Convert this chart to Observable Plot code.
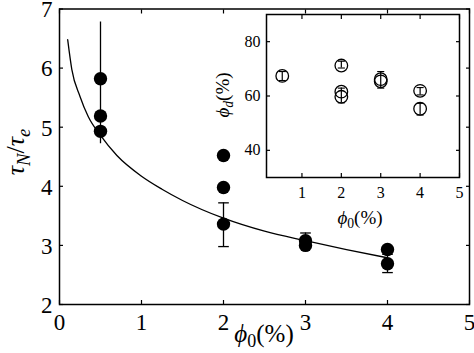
<!DOCTYPE html>
<html><head>
<meta charset="utf-8">
<script src="https://cdn.jsdelivr.net/npm/d3@7"></script>
<script src="https://cdn.jsdelivr.net/npm/@observablehq/plot@0.6"></script>
<style>
body{margin:0;background:#fff;}
#wrap{position:relative;width:474px;height:353px;}
#wrap svg{position:absolute;left:0;top:0;}
</style></head><body><div id="wrap"></div>
<script>
// main panel data
const mainX = [0.5, 0.5, 0.5, 2, 2, 2, 3, 3, 4, 4];
const mainY = [5.82, 5.19, 4.93, 4.52, 3.98, 3.36, 3.08, 3.0, 2.93, 2.69];
const errX = [0.5, 2, 3, 4];
const errLo = [4.72, 2.98, 3.0, 2.54];
const errHi = [6.78, 3.72, 3.21, 2.85];
const errCapped = [false, true, true, true];
const fitX = [0.1, 0.15, 0.25, 0.35, 0.5, 0.7, 1.0, 1.25, 1.5, 2.0, 2.5, 3.0, 3.5, 4.0];
const fitY = [6.48, 5.98, 5.52, 5.18, 4.86, 4.52, 4.17, 3.95, 3.76, 3.46, 3.24, 3.08, 2.93, 2.79];
const xTicks = [0, 1, 2, 3, 4, 5];
const yTicks = [2, 3, 4, 5, 6, 7];
// inset data
const insetX = [0.5, 2, 2, 2, 3, 3, 4, 4];
const insetY = [67.4, 71.2, 61.6, 59.7, 66.2, 65.4, 61.9, 55.3];
const insetErrX = [0.5, 2, 2, 3, 4, 4];
const insetErrLo = [65.7, 70.3, 57.5, 62.9, 60.4, 53.0];
const insetErrHi = [69.0, 72.8, 62.9, 69.0, 63.1, 57.3];
const insetXTicks = [1, 2, 3, 4, 5];
const insetYTicks = [40, 60, 80];

const mainPts = mainX.map((x, i) => ({x, y: mainY[i]}));
const errs = errX.map((x, i) => ({x, lo: errLo[i], hi: errHi[i], capped: errCapped[i]}));
const caps = errs.filter(d => d.capped);
const fit = fitX.map((x, i) => ({x, y: fitY[i]}));
const insetPts = insetX.map((x, i) => ({x, y: insetY[i]}));
const insetErrs = insetErrX.map((x, i) => ({x, lo: insetErrLo[i], hi: insetErrHi[i]}));

const cap = {draw(ctx, size) { const w = Math.sqrt(size); ctx.moveTo(-w, 0); ctx.lineTo(w, 0); }};
const blank = () => "";
const fmt = d3.format("d");
const FONT = "'Liberation Serif', 'Times New Roman', serif";

function inwardTicks(xt, yt) {
  return [
    Plot.axisX({anchor: "bottom", ticks: xt, tickSize: 4, dy: -4, tickFormat: blank, label: null, strokeWidth: 1.2}),
    Plot.axisX({anchor: "top", ticks: xt, tickSize: 4, dy: 4, tickFormat: blank, label: null, strokeWidth: 1.2}),
    Plot.axisY({anchor: "left", ticks: yt, tickSize: 4, dx: 4, tickFormat: blank, label: null, strokeWidth: 1.2}),
    Plot.axisY({anchor: "right", ticks: yt, tickSize: 4, dx: -4, tickFormat: blank, label: null, strokeWidth: 1.2})
  ];
}

const main = Plot.plot({
  width: 474, height: 353,
  marginLeft: 59, marginRight: 5, marginTop: 8.5, marginBottom: 49,
  x: {domain: [0, 5]}, y: {domain: [2, 7]},
  style: {fontFamily: FONT, fontSize: "22px", background: "transparent", color: "black", overflow: "visible"},
  marks: [
    Plot.frame({stroke: "black", strokeWidth: 1.5}),
    Plot.axisX({anchor: "bottom", ticks: xTicks, tickFormat: fmt, tickSize: 0, tickPadding: 9, label: null, fontSize: 23}),
    Plot.axisY({anchor: "left", ticks: yTicks, tickFormat: fmt, tickSize: 0, tickPadding: 7, label: null, fontSize: 23, dy: 1}),
    ...inwardTicks(xTicks, yTicks),
    Plot.line(fit, {x: "x", y: "y", curve: "monotone-x", stroke: "black", strokeWidth: 1.3}),
    Plot.ruleX(errs, {x: "x", y1: "lo", y2: "hi", stroke: "black", strokeWidth: 1.3}),
    Plot.dot(caps, {x: "x", y: "lo", symbol: cap, r: 3, stroke: "black", strokeWidth: 1.3}),
    Plot.dot(caps, {x: "x", y: "hi", symbol: cap, r: 3, stroke: "black", strokeWidth: 1.3}),
    Plot.dot(mainPts, {x: "x", y: "y", r: 6.7, fill: "black", stroke: "none"})
  ]
});

const inset = Plot.plot({
  width: 474, height: 353,
  marginLeft: 266, marginRight: 15, marginTop: 14, marginBottom: 176,
  x: {domain: [0.1, 5]}, y: {domain: [30, 90]},
  style: {fontFamily: FONT, fontSize: "16px", background: "transparent", color: "black", overflow: "visible"},
  marks: [
    Plot.frame({stroke: "black", fill: "white", strokeWidth: 1.5}),
    Plot.axisX({anchor: "bottom", ticks: insetXTicks, tickFormat: fmt, tickSize: 0, tickPadding: 9, label: null, fontSize: 16}),
    Plot.axisY({anchor: "left", ticks: insetYTicks, tickFormat: fmt, tickSize: 0, tickPadding: 6, label: null, fontSize: 16}),
    ...inwardTicks(insetXTicks, insetYTicks),
    Plot.dot(insetPts, {x: "x", y: "y", r: 6.3, fill: "none", stroke: "black", strokeWidth: 1.3}),
    Plot.ruleX(insetErrs, {x: "x", y1: "lo", y2: "hi", stroke: "black", strokeWidth: 1.2}),
    Plot.dot(insetErrs, {x: "x", y: "lo", symbol: cap, r: 2, stroke: "black", strokeWidth: 1.1}),
    Plot.dot(insetErrs, {x: "x", y: "hi", symbol: cap, r: 2, stroke: "black", strokeWidth: 1.1})
  ]
});

const wrap = document.getElementById("wrap");
wrap.append(main);
wrap.append(inset);

function label(svg, x, y, rot, size, parts) {
  const t = d3.select(svg).append("text")
    .attr("transform", `translate(${x},${y}) rotate(${rot})`)
    .attr("text-anchor", "middle")
    .attr("font-family", FONT)
    .attr("font-size", size)
    .attr("fill", "black");
  for (const p of parts) {
    const s = t.append("tspan").text(p.t);
    if (p.i) s.attr("font-style", "italic");
    if (p.small) s.attr("font-size", size * 0.72);
    if (p.dy) s.attr("dy", p.dy);
  }
}
// main y label: τN/τe
label(main, 24, 152, -90, 26, [
  {t: "τ", i: true}, {t: "N", i: true, small: true, dy: "0.3em"}, {t: "/", dy: "-0.22em"},
  {t: "τ", i: true}, {t: "e", i: true, small: true, dy: "0.3em"}
]);
// main x label: ϕ0(%)
label(main, 264, 342, 0, 25, [
  {t: "ϕ", i: true}, {t: "0", small: true, dy: "0.3em"}, {t: "(%)", dy: "-0.22em"}
]);
// inset y label: ϕd(%)
label(inset, 229, 95, -90, 19, [
  {t: "ϕ", i: true}, {t: "d", i: true, small: true, dy: "0.3em"}, {t: "(%)", dy: "-0.22em"}
]);
// inset x label: ϕ0(%)
label(inset, 360, 224, 0, 19, [
  {t: "ϕ", i: true}, {t: "0", small: true, dy: "0.3em"}, {t: "(%)", dy: "-0.22em"}
]);
</script>
</body></html>
